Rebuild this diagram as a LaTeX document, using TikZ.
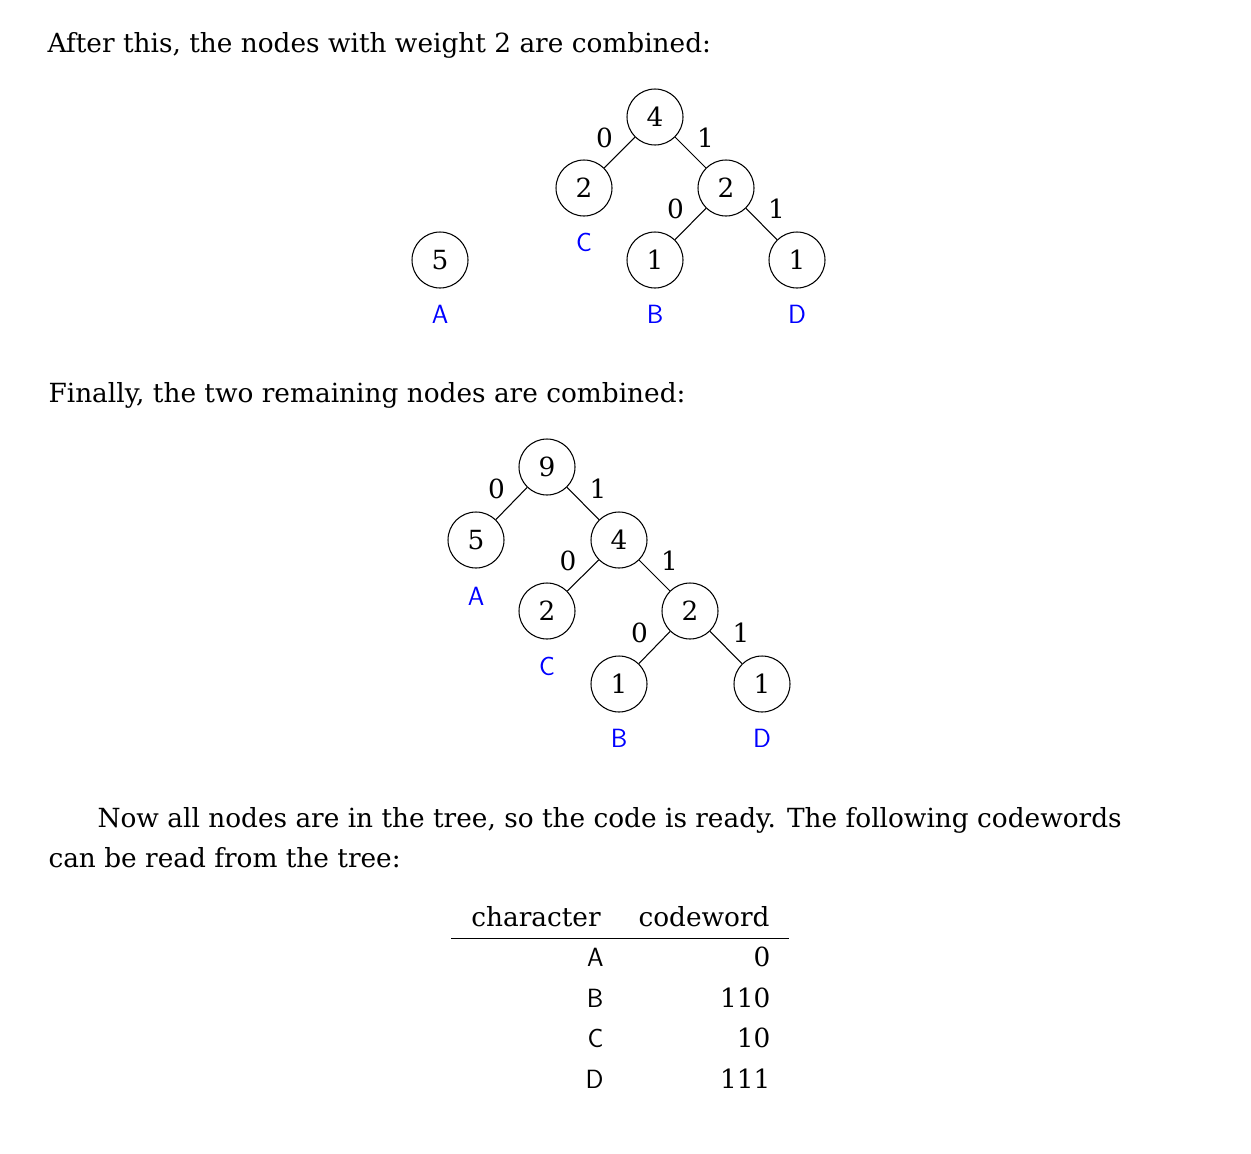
\documentclass[tikz,border=0pt]{standalone}
\usepackage{fontspec}
\setmainfont{DejaVu Serif}
\setsansfont{Latin Modern Sans}
\begin{document}
\begin{tikzpicture}[x=0.02cm, y=-0.02cm, semithick]
  \tikzset{
    wnode/.style={draw, circle, minimum size=1.12cm, inner sep=0pt, font=\fontsize{15}{18}\selectfont},
    letter/.style={text=blue, font=\sffamily\fontsize{15}{18}\selectfont},
    lbl/.style={font=\fontsize{15}{18}\selectfont, midway, xshift=-0.3cm, yshift=0.3cm},
    rbl/.style={font=\fontsize{15}{18}\selectfont, midway, xshift=0.3cm, yshift=0.3cm},
    txt/.style={anchor=base west, inner sep=0pt, font=\fontsize{15}{18}\selectfont}
  }
  \useasboundingbox (0,0) rectangle (1251,1153);
  \node[txt] (t1) at (47,52) {After this, the nodes with weight 2 are combined:};
  % first forest
  \node[wnode] (a1) at (440,260) {5};
  \node[letter] (la1) at (440,314) {A};
  \node[wnode] (r1) at (655,117) {4};
  \node[wnode] (c1) at (584,188) {2};
  \node[letter] (lc1) at (584,242) {C};
  \node[wnode] (m1) at (726,188) {2};
  \node[wnode] (b1) at (655,260) {1};
  \node[letter] (lb1) at (655,314) {B};
  \node[wnode] (d1) at (797,260) {1};
  \node[letter] (ld1) at (797,314) {D};
  \draw (r1) -- node[lbl] {0} (c1);
  \draw (r1) -- node[rbl] {1} (m1);
  \draw (m1) -- node[lbl] {0} (b1);
  \draw (m1) -- node[rbl] {1} (d1);
  \node[txt] (t2) at (48,402) {Finally, the two remaining nodes are combined:};
  % final tree
  \node[wnode] (r2) at (547,467) {9};
  \node[wnode] (a2) at (476,540) {5};
  \node[letter] (la2) at (476,596) {A};
  \node[wnode] (n2) at (619,540) {4};
  \node[wnode] (c2) at (547,611) {2};
  \node[letter] (lc2) at (547,666) {C};
  \node[wnode] (m2) at (690,611) {2};
  \node[wnode] (b2) at (619,684) {1};
  \node[letter] (lb2) at (619,738) {B};
  \node[wnode] (d2) at (762,684) {1};
  \node[letter] (ld2) at (762,738) {D};
  \draw (r2) -- node[lbl] {0} (a2);
  \draw (r2) -- node[rbl] {1} (n2);
  \draw (n2) -- node[lbl] {0} (c2);
  \draw (n2) -- node[rbl] {1} (m2);
  \draw (m2) -- node[lbl] {0} (b2);
  \draw (m2) -- node[rbl] {1} (d2);
  \node[txt] (t3) at (97,827) {Now all nodes are in the tree, so the code is ready. The following codewords};
  \node[txt] (t4) at (48,867) {can be read from the tree:};
  % table
  \node[txt, anchor=base] (h1) at (536,926) {character};
  \node[txt, anchor=base] (h2) at (704,926) {codeword};
  \draw[thin] (451,938) -- (789,938);
  \foreach \ch/\cw [count=\i] in {A/0, B/110, C/10, D/111} {
    \node[letter, text=black, anchor=base east, inner sep=0pt] (k\i) at (604,926+40.5*\i) {\ch};
    \node[txt, anchor=base east] (w\i) at (771,926+40.5*\i) {\cw};
  }
\end{tikzpicture}
\end{document}
